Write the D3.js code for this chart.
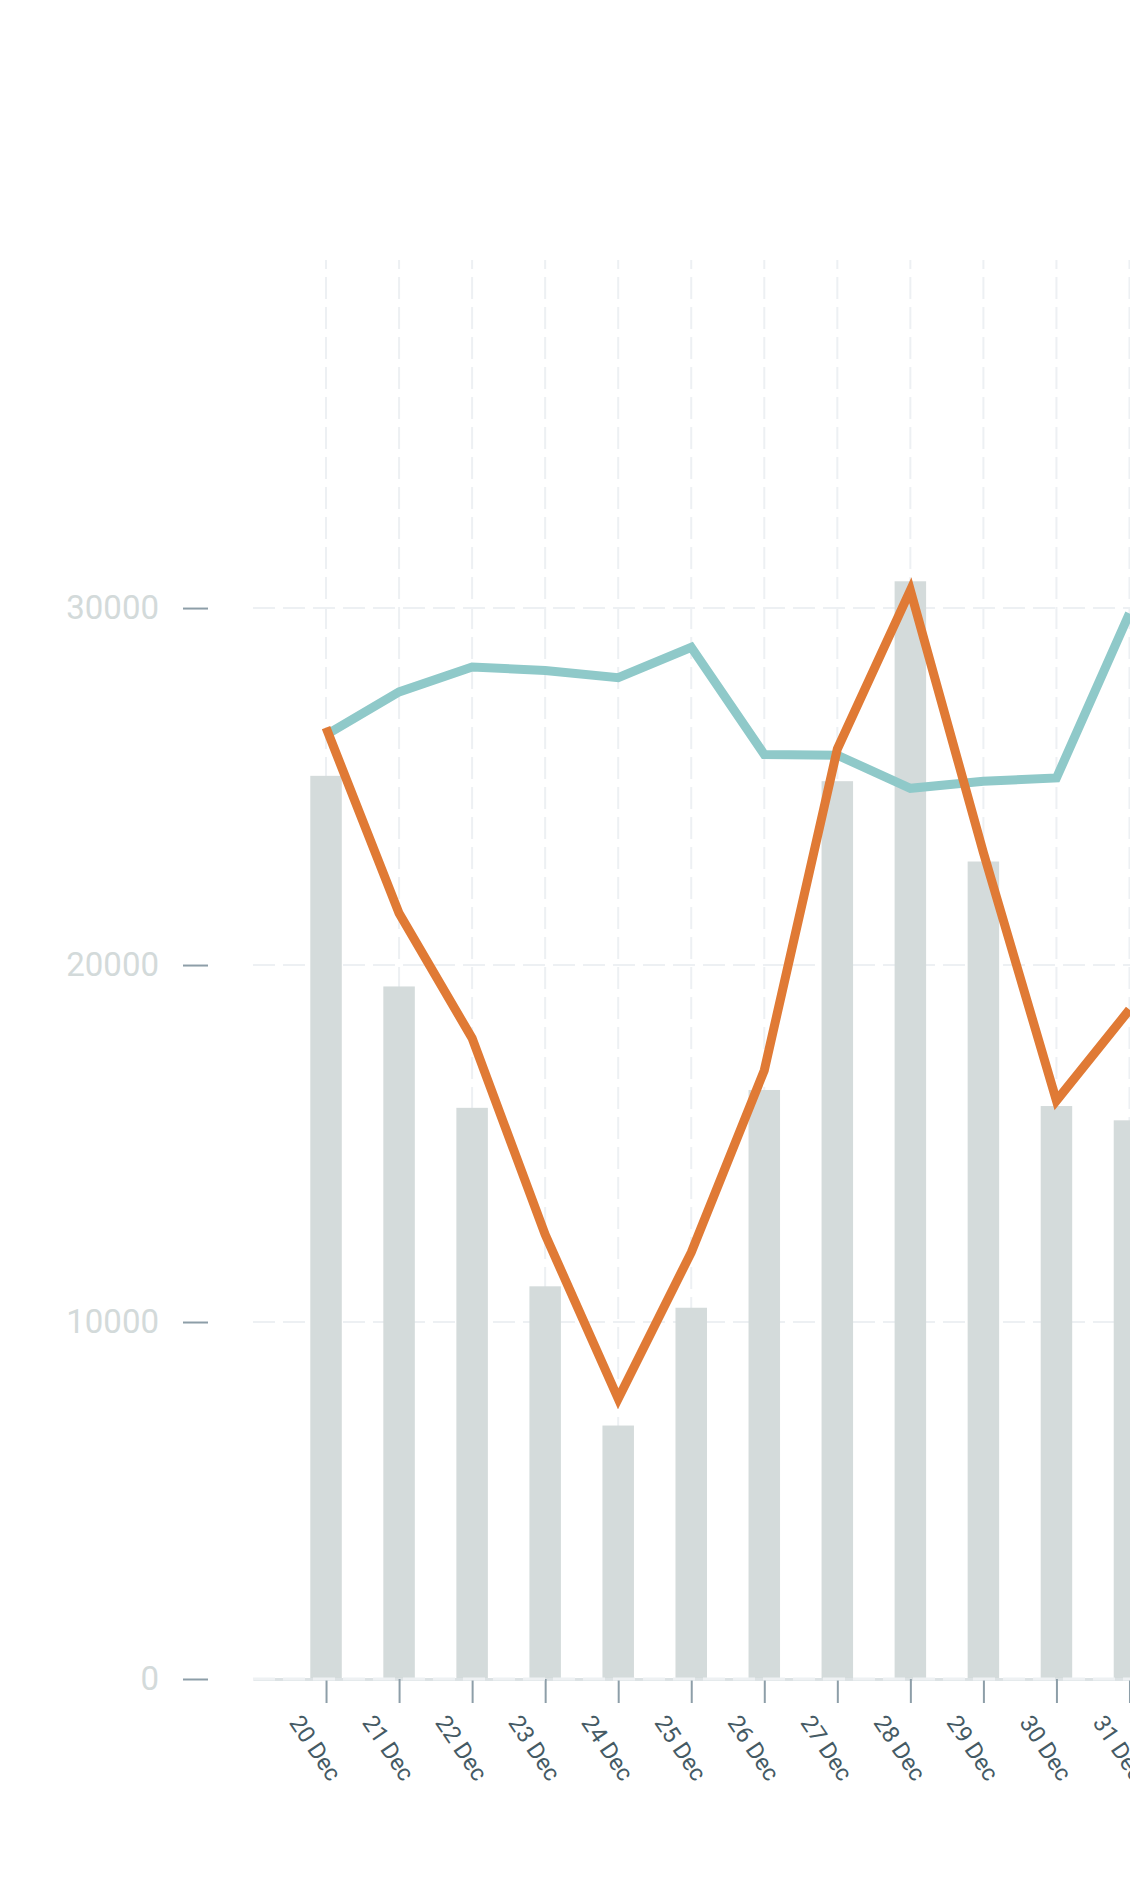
<!DOCTYPE html>
<html>
<head>
<meta charset="utf-8">
<script src="https://cdn.jsdelivr.net/npm/d3@7"></script>
<style>
    html, body {
        margin: 0;
        padding: 0;
        overflow: hidden;
        background: #ffffff;
    }
    #chart-container {
        width: 1130px;
        height: 1886px;
        overflow: hidden;
    }
    text {
        font-family: Roboto, "Noto Sans", sans-serif;
    }
</style>
</head>
<body>
<div id="chart-container"></div>
<script>
const dates = ["20 Dec", "21 Dec", "22 Dec", "23 Dec", "24 Dec", "25 Dec",
    "26 Dec", "27 Dec", "28 Dec", "29 Dec", "30 Dec", "31 Dec"];
const barValues = [25300, 19400, 16000, 11000, 7100, 10400,
    16500, 25150, 30750, 22900, 16050, 15650];
const tealValues = [26450, 27650, 28350, 28250, 28050, 28900,
    25900, 25880, 24950, 25150, 25240, 29850];
const orangeValues = [26650, 21450, 17950, 12450, 7850, 11950,
    17050, 26050, 30500, 23150, 16200, 18750];
const yTicks = [0, 10000, 20000, 30000];

const yMax = 39750;
const plotLeft = 253;
const plotTop = 260;
const plotBottom = 1679;
const step = 73.04;
const plotRight = plotLeft + step * (dates.length + 1);

let svg;
let xScale;
let yScale;

function initViz() {
    svg = d3.select("#chart-container")
        .append("svg")
        .attr("width", 1260)
        .attr("height", 1886);

    xScale = d3.scalePoint()
        .domain(dates)
        .range([plotLeft, plotRight])
        .padding(1);

    yScale = d3.scaleLinear()
        .domain([0, yMax])
        .range([plotBottom, plotTop]);

    drawGrid();
    drawBars();
    drawAxes();
    drawLines();
}

function drawGrid() {
    const grid = svg.append("g")
        .attr("class", "grid");

    grid.selectAll(".v-grid")
        .data(dates)
        .enter()
        .append("line")
        .attr("x1", d => xScale(d))
        .attr("x2", d => xScale(d))
        .attr("y1", plotBottom)
        .attr("y2", plotTop)
        .style("stroke", "#edf0f3")
        .style("stroke-width", 2)
        .style("stroke-dasharray", "22,8");

    grid.selectAll(".h-grid")
        .data(yTicks.filter(d => d > 0))
        .enter()
        .append("line")
        .attr("x1", plotLeft)
        .attr("x2", plotRight)
        .attr("y1", d => yScale(d))
        .attr("y2", d => yScale(d))
        .style("stroke", "#edf0f3")
        .style("stroke-width", 2)
        .style("stroke-dasharray", "22,8");
}

function drawBars() {
    const barWidth = 31.5;

    svg.selectAll(".bar")
        .data(barValues)
        .enter()
        .append("rect")
        .attr("class", "bar")
        .attr("x", (d, i) => xScale(dates[i]) - barWidth / 2)
        .attr("width", barWidth)
        .attr("y", d => yScale(d))
        .attr("height", d => plotBottom - yScale(d))
        .style("fill", "#d4dbdb");
}

function drawAxes() {
    // x axis
    const xAxis = svg.append("g")
        .attr("class", "x-axis")
        .attr("transform", `translate(0,${plotBottom})`)
        .call(d3.axisBottom(xScale)
            .tickSize(24)
            .tickSizeOuter(0));

    xAxis.select(".domain")
        .style("stroke", "#dce2e4")
        .style("stroke-width", 3);

    xAxis.append("line")
        .attr("x1", plotLeft)
        .attr("x2", plotRight)
        .style("stroke", "#eef1f3")
        .style("stroke-width", 3)
        .style("stroke-dasharray", "22,8");

    xAxis.selectAll(".tick line")
        .style("stroke", "#8d9ea8")
        .style("stroke-width", 2);

    xAxis.selectAll(".tick text")
        .attr("y", 0)
        .attr("dy", "0.35em")
        .attr("transform", "translate(-11,69) rotate(56)")
        .style("text-anchor", "middle")
        .style("font-size", "23.5px")
        .style("fill", "#455a64");

    // y axis
    const yAxis = svg.append("g")
        .attr("class", "y-axis")
        .attr("transform", "translate(208,0)")
        .call(d3.axisLeft(yScale)
            .tickValues(yTicks)
            .tickSize(25)
            .tickPadding(24)
            .tickFormat(d3.format("d")));

    yAxis.select(".domain").remove();

    yAxis.selectAll(".tick line")
        .style("stroke", "#8d9ea8")
        .style("stroke-width", 2);

    yAxis.selectAll(".tick text")
        .style("font-size", "33px")
        .style("fill", "#d3dada");
}

function drawLines() {
    const line = d3.line()
        .x((d, i) => xScale(dates[i]))
        .y(d => yScale(d));

    svg.append("path")
        .datum(tealValues)
        .attr("d", line)
        .style("fill", "none")
        .style("stroke", "#8fc9c9")
        .style("stroke-width", 9)
        .style("stroke-linejoin", "miter");

    svg.append("path")
        .datum(orangeValues)
        .attr("d", line)
        .style("fill", "none")
        .style("stroke", "#e07a35")
        .style("stroke-width", 9)
        .style("stroke-linejoin", "miter");
}

window.addEventListener('load', initViz);
</script>
</body>
</html>
